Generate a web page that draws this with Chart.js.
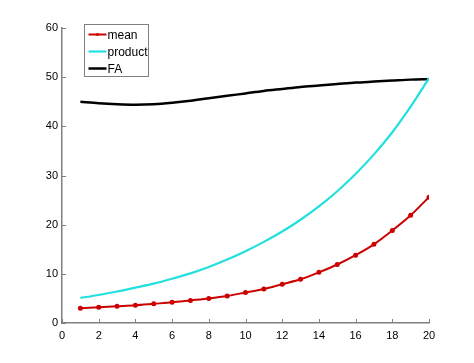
<!DOCTYPE html>
<html>
<head>
<meta charset="utf-8">
<script src="https://cdn.jsdelivr.net/npm/chart.js@4/dist/chart.umd.min.js"></script>
<style>
  html, body { margin: 0; padding: 0; background: #fff; }
  #wrap { width: 474px; height: 363px; }
</style>
</head>
<body>
<div id="wrap"><canvas id="myChart" width="474" height="363"></canvas></div>
<script>
const xs = [1, 2, 3, 4, 5, 6, 7, 8, 9, 10, 11, 12, 13, 14, 15, 16, 17, 18, 19, 20];
const meanValues = [3.0, 3.2, 3.4, 3.6, 3.9, 4.2, 4.6, 5.0, 5.5, 6.2, 6.9, 7.9, 8.9, 10.3, 11.9, 13.8, 16.0, 18.8, 21.9, 25.6];
const productValues = [5.1, 5.7, 6.4, 7.2, 8.0, 9.0, 10.1, 11.4, 12.9, 14.6, 16.5, 18.6, 21.0, 23.7, 26.8, 30.3, 34.3, 38.8, 44.0, 49.8];
const faValues = [45.0, 44.7, 44.5, 44.4, 44.5, 44.8, 45.2, 45.7, 46.2, 46.7, 47.2, 47.6, 48.0, 48.3, 48.6, 48.9, 49.1, 49.3, 49.5, 49.6];
const seriesNames = ["mean", "product", "FA"];
const xTicks = [0, 2, 4, 6, 8, 10, 12, 14, 16, 18, 20];
const yTicks = [0, 10, 20, 30, 40, 50, 60];

const pts = (vals) => vals.map((v, i) => ({ x: xs[i], y: v }));

// matlab style inward ticks
const innerTicks = {
  id: "innerTicks",
  afterDraw(chart) {
    const { ctx, chartArea, scales } = chart;
    ctx.save();
    ctx.strokeStyle = "#808080";
    ctx.lineWidth = 1;
    xTicks.forEach((t) => {
      const px = Math.round(scales.x.getPixelForValue(t)) + 0.5;
      ctx.beginPath();
      ctx.moveTo(px, chartArea.bottom);
      ctx.lineTo(px, chartArea.bottom - 4);
      ctx.stroke();
    });
    yTicks.forEach((t) => {
      const py = Math.round(scales.y.getPixelForValue(t)) + 0.5;
      ctx.beginPath();
      ctx.moveTo(chartArea.left, py);
      ctx.lineTo(chartArea.left + 4, py);
      ctx.stroke();
    });
    ctx.restore();
  },
};

const boxLegend = {
  id: "boxLegend",
  afterDraw(chart) {
    const ctx = chart.ctx;
    const x0 = 84.5, y0 = 24.5, w = 64, h = 52;
    ctx.save();
    ctx.fillStyle = "#fff";
    ctx.fillRect(x0, y0, w, h);
    ctx.strokeStyle = "#808080";
    ctx.lineWidth = 1;
    ctx.strokeRect(x0, y0, w, h);
    ctx.font = "12px 'Liberation Sans', Arial, sans-serif";
    ctx.textBaseline = "middle";
    chart.data.datasets.forEach((ds, i) => {
      const y = y0 + 10 + i * 17;
      ctx.strokeStyle = ds.borderColor;
      ctx.lineWidth = ds.borderWidth;
      ctx.beginPath();
      ctx.moveTo(x0 + 4, y);
      ctx.lineTo(x0 + 22, y);
      ctx.stroke();
      if (ds.pointRadius > 0) {
        ctx.fillStyle = ds.borderColor;
        ctx.beginPath();
        ctx.arc(x0 + 13, y, 1.5, 0, Math.PI * 2);
        ctx.fill();
      }
      ctx.fillStyle = "#000";
      ctx.fillText(ds.label, x0 + 23, y + 1);
    });
    ctx.restore();
  },
};

const ctx = document.querySelector("#myChart").getContext("2d");
new Chart(ctx, {
  type: "line",
  data: {
    datasets: [
      {
        label: seriesNames[0],
        data: pts(meanValues),
        borderColor: "#cc0000",
        backgroundColor: "#cc0000",
        borderWidth: 2,
        pointRadius: 1.5,
        pointHoverRadius: 1.5,
        tension: 0.3,
      },
      {
        label: seriesNames[1],
        data: pts(productValues),
        borderColor: "#22e0e0",
        backgroundColor: "#22e0e0",
        borderWidth: 2.2,
        pointRadius: 0,
        tension: 0.3,
      },
      {
        label: seriesNames[2],
        data: pts(faValues),
        borderColor: "#000000",
        backgroundColor: "#000000",
        borderWidth: 2.5,
        pointRadius: 0,
        tension: 0.3,
      },
    ],
  },
  options: {
    responsive: false,
    animation: false,
    layout: { padding: { top: 28, right: 45, left: 0, bottom: 0 } },
    plugins: {
      legend: { display: false },
      tooltip: { enabled: false },
    },
    scales: {
      x: {
        type: "linear",
        min: 0,
        max: 20,
        afterBuildTicks: (axis) => { axis.ticks = xTicks.map((v) => ({ value: v })); },
        afterFit: (axis) => { axis.height = 40; },
        grid: { drawOnChartArea: false, drawTicks: false, color: "#808080" },
        border: { color: "#808080", width: 1.5 },
        ticks: {
          color: "#000",
          padding: 6,
          maxRotation: 0,
          font: { family: "'Liberation Sans', Arial, sans-serif", size: 11 },
        },
      },
      y: {
        type: "linear",
        min: 0,
        max: 60,
        afterBuildTicks: (axis) => { axis.ticks = yTicks.map((v) => ({ value: v })); },
        afterFit: (axis) => { axis.width = 62; },
        grid: { drawOnChartArea: false, drawTicks: false, color: "#808080" },
        border: { color: "#808080", width: 1.5 },
        ticks: {
          color: "#000",
          padding: 4,
          font: { family: "'Liberation Sans', Arial, sans-serif", size: 11 },
        },
      },
    },
  },
  plugins: [innerTicks, boxLegend],
});
</script>
</body>
</html>
